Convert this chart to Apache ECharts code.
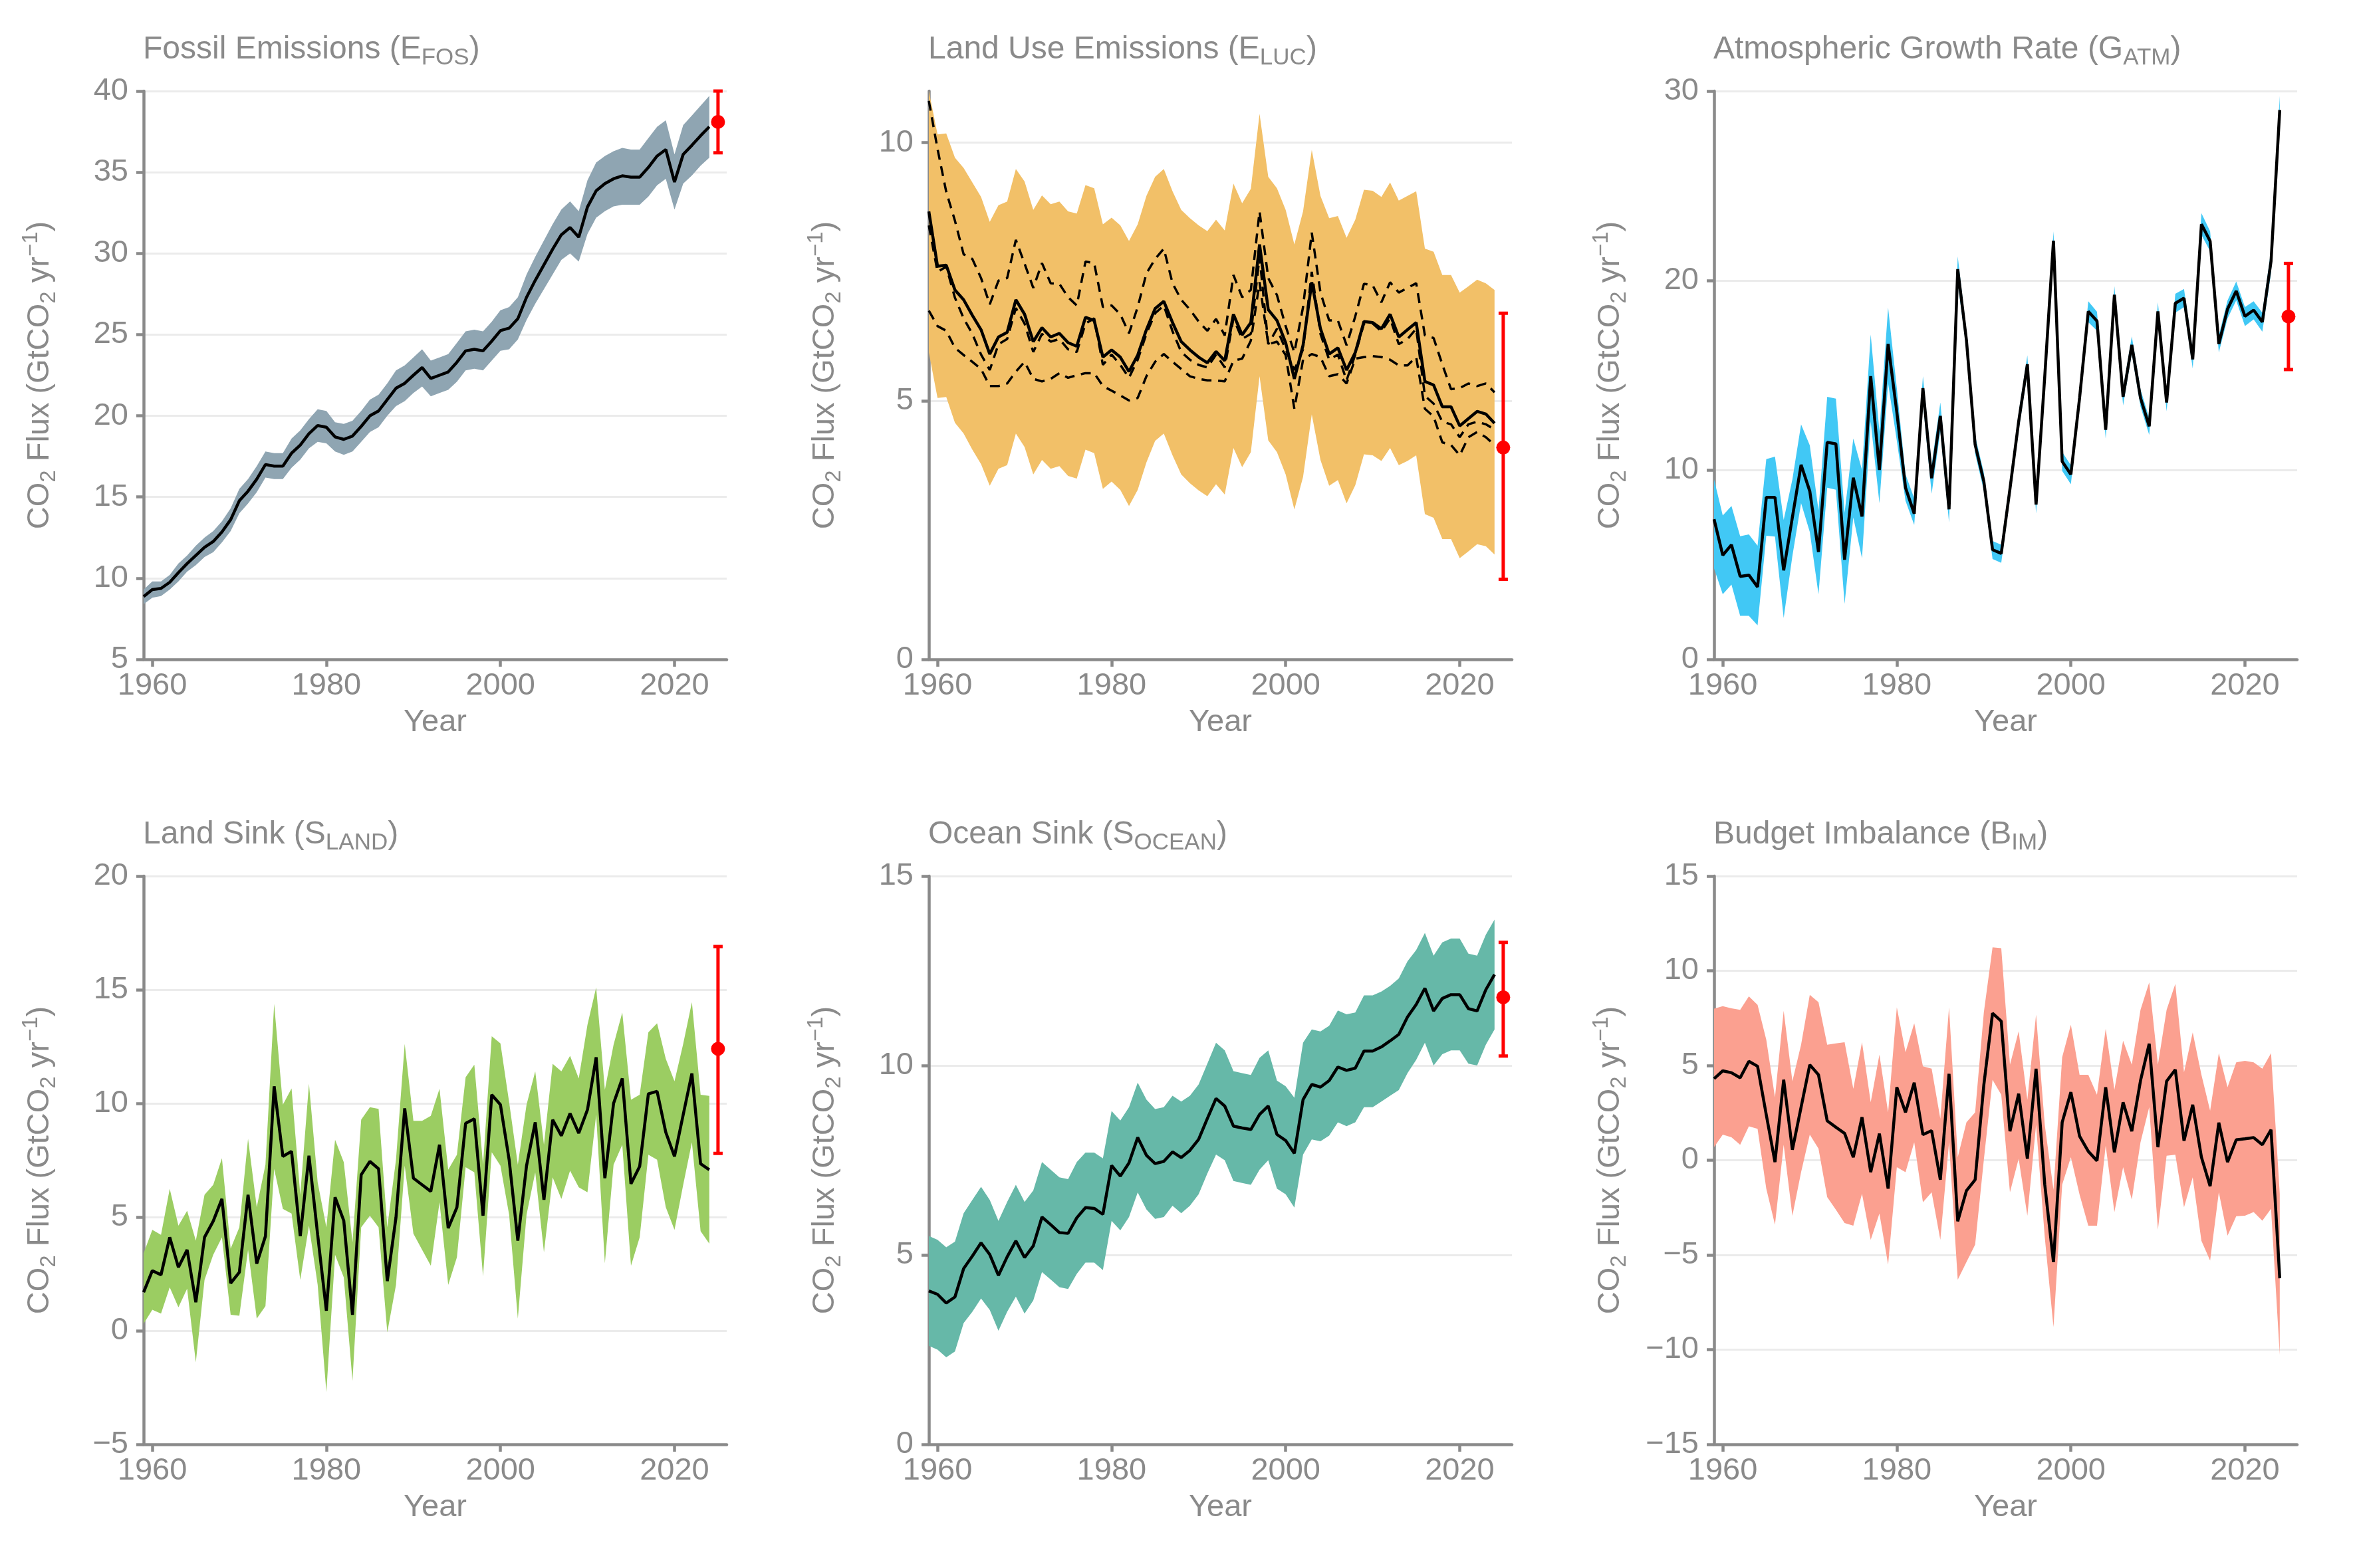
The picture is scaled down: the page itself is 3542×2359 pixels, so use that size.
<!DOCTYPE html>
<html>

	<head>
		<meta charset="utf-8">
		<title>Carbon budget components</title>
		<script src="https://cdn.jsdelivr.net/npm/echarts@6.0.0/dist/echarts.min.js"></script>
		<style>
			* {
				margin: 0;
				padding: 0
			}

			html,
			body {
				width: 100%;
				height: 100%;
				background: #fff;
			}

			#main {
				width: 3542px;
				height: 2359px;
			}
		</style>
	</head>

	<body>
		<div id="main"></div>
		<script type="text/javascript">
			var years = [];
			for (var y = 1959; y <= 2024; y++) years.push(y);
			var xTicks = [1960, 1980, 2000, 2020];
			var errYear = 2025;

			/*-------------------- Fossil emissions --------------------*/
			var fosEst = [8.87, 9.3, 9.37, 9.75, 10.34, 10.9, 11.4, 11.9, 12.26, 12.85,
				13.6, 14.77, 15.36, 16.1, 17.0, 16.9, 16.9, 17.7, 18.2, 18.9,
				19.4, 19.3, 18.7, 18.55, 18.75, 19.35, 20.0, 20.3, 21.0, 21.7,
				22.0, 22.5, 22.97, 22.3, 22.5, 22.7, 23.3, 24.0, 24.1, 24.0,
				24.6, 25.25, 25.4, 25.98, 27.3, 28.34, 29.3, 30.26, 31.15, 31.6,
				31.0, 32.86, 33.86, 34.3, 34.6, 34.78, 34.7, 34.7, 35.3, 36.0,
				36.4, 34.4, 36.1, 36.66, 37.25, 37.8];
			var fosHi = [9.3, 9.8, 9.8, 10.2, 10.9, 11.4, 12.0, 12.5, 12.9, 13.5,
				14.3, 15.5, 16.1, 16.9, 17.8, 17.7, 17.7, 18.6, 19.1, 19.8,
				20.4, 20.3, 19.6, 19.5, 19.7, 20.3, 21.0, 21.3, 22.0, 22.8,
				23.1, 23.6, 24.1, 23.4, 23.6, 23.8, 24.5, 25.2, 25.3, 25.2,
				25.8, 26.5, 26.7, 27.3, 28.7, 29.8, 30.8, 31.8, 32.7, 33.2,
				32.6, 34.5, 35.6, 36.0, 36.3, 36.5, 36.4, 36.4, 37.1, 37.8,
				38.2, 36.1, 37.9, 38.5, 39.1, 39.7];
			var fosLo = [8.4, 8.8, 8.9, 9.3, 9.8, 10.4, 10.8, 11.3, 11.6, 12.2,
				12.9, 14.0, 14.6, 15.3, 16.2, 16.1, 16.1, 16.8, 17.3, 18.0,
				18.4, 18.3, 17.8, 17.6, 17.8, 18.4, 19.0, 19.3, 20.0, 20.6,
				20.9, 21.4, 21.8, 21.2, 21.4, 21.6, 22.1, 22.8, 22.9, 22.8,
				23.4, 24.0, 24.1, 24.7, 25.9, 26.9, 27.8, 28.7, 29.6, 30.0,
				29.5, 31.2, 32.2, 32.6, 32.9, 33.0, 33.0, 33.0, 33.5, 34.2,
				34.6, 32.7, 34.3, 34.8, 35.4, 35.9];

			/*-------------------- Land use emissions --------------------*/
			var lucEst = [8.67, 7.61, 7.63, 7.15, 6.96, 6.66, 6.38, 5.91, 6.24, 6.33,
				6.96, 6.68, 6.15, 6.42, 6.24, 6.31, 6.13, 6.06, 6.62, 6.56,
				5.85, 5.99, 5.85, 5.57, 5.89, 6.38, 6.79, 6.93, 6.52, 6.15,
				5.99, 5.85, 5.74, 5.96, 5.78, 6.68, 6.28, 6.52, 8.03, 6.77,
				6.56, 6.13, 5.43, 6.08, 7.3, 6.4, 5.91, 6.03, 5.6, 5.94,
				6.54, 6.52, 6.4, 6.68, 6.24, 6.38, 6.52, 5.38, 5.31, 4.89,
				4.89, 4.52, 4.66, 4.8, 4.75, 4.57];
			var lucHi = [11.0, 10.16, 10.18, 9.71, 9.51, 9.23, 8.95, 8.47, 8.79, 8.86,
				9.49, 9.25, 8.7, 8.98, 8.81, 8.86, 8.67, 8.63, 9.18, 9.12,
				8.42, 8.55, 8.4, 8.1, 8.42, 8.97, 9.34, 9.49, 9.06, 8.7,
				8.54, 8.4, 8.29, 8.51, 8.3, 9.21, 8.83, 9.11, 10.56, 9.34,
				9.12, 8.7, 8.03, 8.67, 9.86, 8.97, 8.54, 8.58, 8.16, 8.51,
				9.09, 9.07, 8.95, 9.23, 8.88, 8.97, 9.06, 7.95, 7.89, 7.44,
				7.44, 7.1, 7.22, 7.35, 7.28, 7.15];
			var lucLo = [5.94, 5.06, 5.08, 4.58, 4.37, 4.06, 3.78, 3.36, 3.69, 3.76,
				4.37, 4.11, 3.58, 3.86, 3.69, 3.74, 3.55, 3.5, 4.06, 3.99,
				3.3, 3.44, 3.28, 2.97, 3.28, 3.81, 4.23, 4.37, 3.95, 3.58,
				3.41, 3.27, 3.16, 3.39, 3.19, 4.09, 3.72, 4.01, 5.48, 4.24,
				4.01, 3.58, 2.9, 3.53, 4.74, 3.86, 3.36, 3.47, 3.02, 3.37,
				3.97, 3.95, 3.84, 4.09, 3.76, 3.84, 3.95, 2.81, 2.74, 2.33,
				2.33, 1.96, 2.09, 2.23, 2.19, 2.03];
			// the three bookkeeping models (dashed)
			var lucModelA = [10.81, 9.88, 9.05, 8.49, 7.84, 7.75, 7.38, 6.87, 7.33, 7.38,
				8.12, 7.66, 7.19, 7.67, 7.28, 7.27, 7.01, 6.85, 7.7, 7.67,
				6.82, 6.85, 6.68, 6.31, 6.82, 7.47, 7.75, 7.95, 7.28, 6.96,
				6.77, 6.54, 6.36, 6.59, 6.27, 7.44, 7.01, 7.15, 8.67, 7.38,
				7.05, 6.45, 5.94, 6.82, 8.26, 7.1, 6.56, 6.56, 6.08, 6.64,
				7.27, 7.24, 6.91, 7.3, 7.1, 7.19, 7.28, 6.27, 6.22, 5.71,
				5.23, 5.25, 5.34, 5.29, 5.34, 5.17];
			var lucModelB = [8.4, 7.5, 7.6, 7.0, 6.6, 6.3, 5.9, 5.6, 6.1, 6.2,
				6.8, 6.5, 5.95, 6.3, 6.15, 6.2, 6.0, 5.95, 6.5, 6.6,
				5.7, 5.9, 5.7, 5.45, 5.8, 6.3, 6.7, 6.85, 6.35, 5.95,
				5.8, 5.7, 5.65, 5.9, 5.65, 6.6, 6.2, 6.3, 7.8, 6.1,
				6.4, 6.0, 5.6, 6.0, 7.5, 6.3, 5.8, 5.9, 5.4, 5.9,
				6.5, 6.5, 6.35, 6.6, 6.1, 6.2, 6.4, 5.1, 4.95, 4.6,
				4.55, 4.3, 4.55, 4.6, 4.55, 4.45];
			var lucModelC = [6.75, 6.45, 6.36, 6.03, 5.89, 5.76, 5.62, 5.29, 5.29, 5.34,
				5.57, 5.76, 5.43, 5.38, 5.43, 5.54, 5.45, 5.5, 5.54, 5.54,
				5.29, 5.2, 5.11, 5.01, 5.06, 5.48, 5.76, 5.91, 5.76, 5.62,
				5.48, 5.43, 5.4, 5.4, 5.38, 5.78, 5.82, 6.17, 7.3, 6.1,
				6.15, 5.89, 4.85, 5.8, 5.91, 5.85, 5.48, 5.52, 5.34, 5.82,
				5.85, 5.87, 5.85, 5.8, 5.69, 5.69, 5.85, 4.85, 4.7, 4.2,
				4.15, 3.95, 4.3, 4.4, 4.3, 4.15];

			/*-------------------- Atmospheric growth --------------------*/
			var atmEst = [7.4, 5.5, 6.05, 4.38, 4.45, 3.82, 8.55, 8.55, 4.7, 7.5,
				10.27, 8.88, 5.67, 11.46, 11.38, 5.26, 9.59, 7.54, 14.95, 10.0,
				16.65, 13.05, 9.06, 7.69, 14.32, 9.56, 12.85, 7.92, 20.6, 16.85,
				11.33, 9.39, 5.79, 5.59, 9.0, 12.55, 15.58, 8.17, 14.95, 22.1,
				10.45, 9.76, 13.8, 18.37, 17.86, 12.12, 19.25, 13.86, 16.6, 13.8,
				12.3, 18.37, 13.56, 18.8, 19.07, 15.84, 22.97, 22.08, 16.65, 18.49,
				19.45, 18.11, 18.44, 17.81, 21.02, 29.0];
			var atmHi = [9.5, 7.6, 8.1, 6.5, 6.6, 6.0, 10.57, 10.7, 7.36, 9.5,
				12.4, 11.3, 7.87, 13.86, 13.76, 7.74, 11.66, 10.0, 17.15, 12.04,
				18.57, 14.32, 9.76, 8.5, 14.95, 10.27, 13.56, 8.63, 21.27, 17.3,
				11.8, 9.85, 6.25, 6.05, 9.45, 13.0, 16.05, 8.6, 15.4, 22.6,
				10.95, 10.25, 14.25, 18.9, 18.35, 12.55, 19.7, 14.3, 17.05, 14.25,
				12.75, 18.85, 14.0, 19.3, 19.55, 16.3, 23.55, 22.6, 17.1, 18.95,
				19.95, 18.6, 18.9, 18.3, 21.6, 29.75];
			var atmLo = [4.8, 3.44, 3.95, 2.3, 2.3, 1.8, 6.53, 6.48, 2.18, 5.46,
				8.25, 6.73, 3.44, 9.06, 8.96, 2.93, 7.49, 5.34, 12.55, 8.25,
				14.57, 11.54, 8.37, 7.1, 13.56, 8.75, 12.04, 7.23, 19.88, 16.4,
				10.85, 8.9, 5.3, 5.1, 8.55, 12.1, 15.1, 7.7, 14.5, 21.6,
				9.95, 9.25, 13.35, 17.8, 17.35, 11.65, 18.8, 13.4, 16.15, 13.35,
				11.85, 17.9, 13.1, 18.3, 18.6, 15.35, 22.4, 21.55, 16.2, 18.0,
				18.95, 17.6, 17.95, 17.3, 20.4, 28.3];

			/*-------------------- Land sink --------------------*/
			var landEst = [1.69, 2.64, 2.46, 4.11, 2.79, 3.56, 1.25, 4.11, 4.82, 5.8,
				2.09, 2.57, 5.98, 2.95, 4.16, 10.75, 7.67, 7.89, 4.16, 7.7,
				4.22, 0.88, 5.87, 4.84, 0.7, 6.86, 7.45, 7.12, 2.18, 4.99,
				9.78, 6.71, 6.42, 6.13, 8.18, 4.51, 5.43, 9.12, 9.32, 5.06,
				10.38, 9.94, 7.52, 3.96, 7.26, 9.17, 5.76, 9.28, 8.58, 9.56,
				8.69, 9.72, 12.03, 6.71, 10.0, 11.1, 6.46, 7.23, 10.42, 10.53,
				8.73, 7.67, 9.5, 11.32, 7.34, 7.08];
			var landHi = [3.41, 4.44, 4.22, 6.24, 4.62, 5.28, 3.96, 5.98, 6.42, 7.59,
				3.61, 4.55, 8.44, 5.43, 7.3, 14.38, 9.94, 10.66, 5.98, 10.86,
				6.53, 4.55, 8.4, 7.41, 3.89, 9.28, 9.83, 9.76, 4.55, 7.52,
				12.62, 9.23, 9.23, 9.45, 10.64, 7.08, 7.74, 11.15, 11.7, 7.3,
				12.95, 12.64, 10.05, 7.3, 9.94, 11.41, 8.18, 11.74, 11.41, 12.09,
				11.1, 13.46, 15.1, 10.6, 12.58, 14.0, 10.16, 10.38, 13.13, 13.52,
				11.96, 10.97, 12.62, 14.45, 10.38, 10.33];
			var landLo = [0.31, 0.92, 0.75, 1.91, 1.03, 1.85, -1.39, 2.24, 3.34, 4.11,
				0.7, 0.66, 3.56, 0.53, 1.08, 7.12, 5.36, 5.15, 2.24, 4.62,
				2.02, -2.7, 3.34, 2.35, -2.2, 4.55, 5.06, 4.55, -0.07, 2.02,
				7.26, 4.27, 3.56, 2.86, 5.65, 2.02, 3.23, 7.19, 6.97, 2.4,
				7.85, 7.26, 5.1, 0.53, 5.1, 6.97, 3.45, 6.75, 5.8, 7.04,
				6.31, 6.09, 9.5, 2.97, 7.3, 8.18, 2.86, 4.11, 7.74, 7.52,
				5.43, 4.44, 6.42, 8.29, 4.38, 3.83];

			/*-------------------- Ocean sink --------------------*/
			var oceanEst = [4.05, 3.96, 3.73, 3.89, 4.64, 4.97, 5.32, 5.01, 4.46, 4.95,
				5.37, 4.93, 5.24, 6.0, 5.8, 5.59, 5.57, 5.98, 6.25, 6.23,
				6.07, 7.36, 7.08, 7.43, 8.1, 7.63, 7.41, 7.47, 7.72, 7.57,
				7.76, 8.05, 8.6, 9.13, 8.93, 8.4, 8.35, 8.31, 8.71, 8.93,
				8.18, 8.02, 7.68, 9.1, 9.5, 9.43, 9.6, 9.96, 9.87, 9.93,
				10.38, 10.38, 10.49, 10.65, 10.82, 11.28, 11.61, 12.04, 11.44, 11.77,
				11.87, 11.87, 11.5, 11.44, 12.0, 12.4];
			var oceanHi = [5.5, 5.4, 5.2, 5.35, 6.1, 6.45, 6.8, 6.45, 5.9, 6.4,
				6.85, 6.4, 6.7, 7.45, 7.25, 7.05, 7.0, 7.45, 7.7, 7.7,
				7.55, 8.8, 8.55, 8.9, 9.55, 9.1, 8.85, 8.9, 9.2, 9.05,
				9.2, 9.5, 10.05, 10.6, 10.4, 9.85, 9.8, 9.75, 10.2, 10.4,
				9.6, 9.45, 9.15, 10.6, 10.95, 10.9, 11.05, 11.45, 11.35, 11.4,
				11.85, 11.85, 11.95, 12.1, 12.3, 12.75, 13.05, 13.5, 12.9, 13.25,
				13.35, 13.35, 12.95, 12.9, 13.45, 13.85];
			var oceanLo = [2.6, 2.5, 2.3, 2.45, 3.2, 3.5, 3.85, 3.55, 3.0, 3.5,
				3.9, 3.45, 3.8, 4.55, 4.35, 4.15, 4.1, 4.5, 4.8, 4.8,
				4.6, 5.9, 5.65, 6.0, 6.65, 6.2, 5.95, 6.0, 6.3, 6.1,
				6.3, 6.6, 7.15, 7.65, 7.5, 6.95, 6.9, 6.85, 7.25, 7.5,
				6.75, 6.6, 6.25, 7.65, 8.05, 8.0, 8.15, 8.5, 8.4, 8.5,
				8.9, 8.9, 9.05, 9.2, 9.35, 9.8, 10.15, 10.6, 10.0, 10.3,
				10.4, 10.4, 10.05, 10.0, 10.55, 10.95];

			/*-------------------- Budget imbalance --------------------*/
			var bimEst = [4.3, 4.72, 4.62, 4.35, 5.22, 4.96, 2.4, -0.1, 4.25, 0.55,
				2.8, 5.04, 4.51, 2.08, 1.74, 1.42, 0.16, 2.27, -0.63, 1.4,
				-1.5, 3.85, 2.53, 4.09, 1.35, 1.56, -1.03, 4.56, -3.22, -1.61,
				-1.03, 3.98, 7.76, 7.34, 1.53, 3.51, 0.08, 4.83, -1.29, -5.38,
				2.0, 3.59, 1.27, 0.47, -0.03, 3.85, 0.42, 3.06, 1.53, 4.2,
				6.15, 0.69, 4.17, 4.78, 1.03, 2.93, 0.16, -1.37, 1.98, -0.1,
				1.08, 1.13, 1.19, 0.82, 1.61, -6.23];
			var bimHi = [8.0, 8.13, 8.02, 7.94, 8.65, 8.2, 6.36, 3.32, 7.89, 4.17,
				6.1, 8.73, 8.34, 6.1, 6.17, 6.23, 3.77, 6.23, 3.06, 5.57,
				2.53, 8.07, 5.7, 7.23, 4.96, 4.83, 2.19, 8.07, 0.16, 2.0,
				2.53, 7.81, 11.24, 11.19, 5.04, 6.81, 3.19, 7.68, 1.87, -1.56,
				5.44, 7.15, 4.51, 4.51, 3.46, 6.94, 3.72, 6.31, 5.04, 7.94,
				9.39, 5.04, 7.94, 9.31, 4.64, 6.75, 4.51, 2.61, 5.65, 3.85,
				5.17, 5.25, 5.17, 4.83, 5.65, -1.77];
			var bimLo = [0.69, 1.35, 1.21, 0.82, 1.79, 1.66, -1.5, -3.4, 0.82, -2.93,
				-0.63, 1.35, 0.61, -1.95, -2.61, -3.32, -3.46, -1.77, -4.2, -2.82,
				-5.51, -0.37, -0.63, 0.95, -2.22, -1.69, -4.2, 0.95, -6.31, -5.38,
				-4.46, 0.03, 4.25, 3.46, -1.69, 0.08, -2.93, 1.87, -4.06, -8.81,
				-1.29, 0.16, -1.82, -3.46, -3.46, 0.77, -2.74, -0.37, -2.08, 0.95,
				2.8, -3.67, 0.24, 0.29, -2.48, -0.9, -4.25, -5.3, -1.69, -3.98,
				-2.96, -2.93, -2.74, -3.19, -2.56, -10.26];

			// projection for the coming year: [estimate, low, high]
			var projFos = [38.1, 36.2, 40.0];
			var projLuc = [4.1, 1.55, 6.7];
			var projAtm = [18.1, 15.3, 20.9];
			var projLand = [12.4, 7.8, 16.9];
			var projOcean = [11.8, 10.25, 13.25];

			var ticksFos = [5, 10, 15, 20, 25, 30, 35, 40];
			var ticksLuc = [0, 5, 10];
			var ticksAtm = [0, 10, 20, 30];
			var ticksLand = [-5, 0, 5, 10, 15, 20];
			var ticksOcean = [0, 5, 10, 15];
			var ticksBim = [-15, -10, -5, 0, 5, 10, 15];

			var panels = [
				{ name: 'Fossil Emissions (E', sub: 'FOS', est: fosEst, lo: fosLo, hi: fosHi, color: '#8FA5B2', min: 5, max: 40, step: 5, ticks: ticksFos, proj: projFos },
				{ name: 'Land Use Emissions (E', sub: 'LUC', est: lucEst, lo: lucLo, hi: lucHi, color: '#F2C068', min: 0, max: 11, step: 5, ticks: ticksLuc, proj: projLuc, models: [lucModelA, lucModelB, lucModelC] },
				{ name: 'Atmospheric Growth Rate (G', sub: 'ATM', est: atmEst, lo: atmLo, hi: atmHi, color: '#41C8F5', min: 0, max: 30, step: 10, ticks: ticksAtm, proj: projAtm },
				{ name: 'Land Sink (S', sub: 'LAND', est: landEst, lo: landLo, hi: landHi, color: '#9BCD62', min: -5, max: 20, step: 5, ticks: ticksLand, proj: projLand },
				{ name: 'Ocean Sink (S', sub: 'OCEAN', est: oceanEst, lo: oceanLo, hi: oceanHi, color: '#66B8A8', min: 0, max: 15, step: 5, ticks: ticksOcean, proj: projOcean },
				{ name: 'Budget Imbalance (B', sub: 'IM', est: bimEst, lo: bimLo, hi: bimHi, color: '#FBA090', min: -15, max: 15, step: 5, ticks: ticksBim, proj: null }
			];

			var FONT = '"Liberation Sans", Arial, Helvetica, sans-serif';
			var GREY = '#8a8a8a';
			var colLeft = [216, 1397, 2578];
			var rowTop = [137, 1318];
			var gridW = 877, gridH = 855;

			function fmt(v) {
				return v < 0 ? '\u2212' + Math.abs(v) : String(v);
			}

			var titleRich = {
				t: { fontSize: 48, fontWeight: 'normal', color: GREY, fontFamily: FONT, lineHeight: 60 },
				s: { fontSize: 35, fontWeight: 'normal', color: GREY, fontFamily: FONT, lineHeight: 40, verticalAlign: 'bottom' }
			};
			var yNameRich = {
				a: { fontSize: 47, color: GREY, fontFamily: FONT, lineHeight: 60 },
				s: { fontSize: 33, color: GREY, fontFamily: FONT, lineHeight: 40, verticalAlign: 'bottom' },
				p: { fontSize: 33, color: GREY, fontFamily: FONT, lineHeight: 35, verticalAlign: 'top' }
			};
			var yName = '{a|CO}{s|2}{a| Flux (GtCO}{s|2}{a| yr}{p|\u22121}{a|)}';

			function pairs(vals) {
				return years.map(function (yr, i) { return [yr, vals[i]]; });
			}

			// uncertainty band as one polygon through the axis scales
			function band(idx, lo, hi, color) {
				return {
					type: 'custom', xAxisIndex: idx, yAxisIndex: idx, silent: true, z: 1, clip: true,
					data: [[years[0], lo[0]]],
					renderItem: function (params, api) {
						var pts = [];
						for (var i = 0; i < years.length; i++) pts.push(api.coord([years[i], hi[i]]));
						for (var j = years.length - 1; j >= 0; j--) pts.push(api.coord([years[j], lo[j]]));
						return { type: 'polygon', shape: { points: pts }, style: { fill: color } };
					}
				};
			}

			function errBar(idx, proj) {
				return {
					type: 'custom', xAxisIndex: idx, yAxisIndex: idx, silent: true, z: 5,
					data: [[errYear, proj[0], proj[1], proj[2]]],
					renderItem: function (params, api) {
						var x = api.value(0);
						var mid = api.coord([x, api.value(1)]);
						var bot = api.coord([x, api.value(2)]);
						var top = api.coord([x, api.value(3)]);
						function st() { return { stroke: '#ff0000', lineWidth: 5 }; }
						return {
							type: 'group', children: [
								{ type: 'line', shape: { x1: top[0], y1: top[1], x2: bot[0], y2: bot[1] }, style: st() },
								{ type: 'line', shape: { x1: top[0] - 7, y1: top[1], x2: top[0] + 7, y2: top[1] }, style: st() },
								{ type: 'line', shape: { x1: bot[0] - 7, y1: bot[1], x2: bot[0] + 7, y2: bot[1] }, style: st() },
								{ type: 'circle', shape: { cx: mid[0], cy: mid[1], r: 10.5 }, style: { fill: '#ff0000' } }
							]
						};
					}
				};
			}

			var grids = [], titles = [], xAxes = [], yAxes = [], series = [];
			panels.forEach(function (p, i) {
				var r = Math.floor(i / 3), c = i % 3;
				grids.push({ left: colLeft[c], top: rowTop[r], width: gridW, height: gridH, containLabel: false, outerBoundsMode: 'none' });
				titles.push({
					left: colLeft[c] - 1, top: rowTop[r] - 92, padding: 0,
					text: '{t|' + p.name + '}{s|' + p.sub + '}{t|)}',
					textStyle: { fontWeight: 'normal', rich: titleRich }
				});
				xAxes.push({
					type: 'value', gridIndex: i, min: 1959, max: 2026,
					name: 'Year', nameLocation: 'middle', nameGap: 72,
					nameTextStyle: { fontSize: 47, color: GREY, fontFamily: FONT },
					axisLine: { show: true, onZero: false, lineStyle: { color: GREY, width: 4.5 } },
					axisTick: { show: true, length: 11, lineStyle: { color: GREY, width: 4.5 }, customValues: xTicks },
					axisLabel: { fontSize: 47, color: GREY, fontFamily: FONT, margin: 17, customValues: xTicks,
						formatter: function (v) { return String(v); } },
					splitLine: { show: false }
				});
				yAxes.push({
					type: 'value', gridIndex: i, min: p.min, max: p.max, interval: p.step,
					name: yName, nameLocation: 'middle', nameGap: 126,
					nameTextStyle: { rich: yNameRich },
					axisLine: { show: true, onZero: false, lineStyle: { color: GREY, width: 4.5 } },
					axisTick: { show: true, length: 11, lineStyle: { color: GREY, width: 4.5 }, customValues: p.ticks },
					axisLabel: { fontSize: 47, color: GREY, fontFamily: FONT, margin: 23, customValues: p.ticks, formatter: fmt },
					splitLine: { show: true, lineStyle: { color: '#ebebeb', width: 3 } }
				});
				series.push(band(i, p.lo, p.hi, p.color));
				if (p.models) {
					p.models.forEach(function (m) {
						series.push({
							type: 'line', xAxisIndex: i, yAxisIndex: i, data: pairs(m), showSymbol: false, silent: true, z: 2,
							lineStyle: { color: '#000', width: 3.5, type: [15, 10] }
						});
					});
				}
				series.push({
					type: 'line', xAxisIndex: i, yAxisIndex: i, data: pairs(p.est), showSymbol: false, silent: true, z: 3,
					lineStyle: { color: '#000', width: 4.5 }
				});
				if (p.proj) series.push(errBar(i, p.proj));
			});

			var chart = echarts.init(document.getElementById('main'));
			chart.setOption({
				animation: false,
				backgroundColor: '#fff',
				title: titles,
				grid: grids,
				xAxis: xAxes,
				yAxis: yAxes,
				series: series
			});
		</script>
	</body>

</html>
